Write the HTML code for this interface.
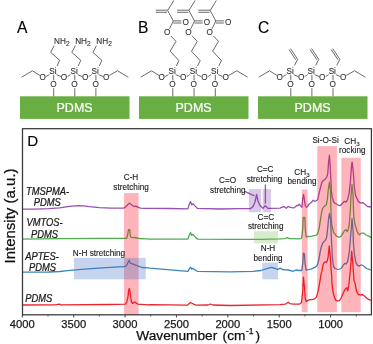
<!DOCTYPE html>
<html><head><meta charset="utf-8"><title>FTIR</title>
<style>html,body{margin:0;padding:0;background:#fff;}svg{display:block;}</style></head>
<body><svg width="373" height="344" viewBox="0 0 373 344">
<rect width="373" height="344" fill="#fff"/>
<text x="17.1" y="32.7" font-size="15.6" font-family="'Liberation Sans', sans-serif" fill="#000" stroke="#000" stroke-width="0.15">A</text>
<text x="137.9" y="32.7" font-size="15.6" font-family="'Liberation Sans', sans-serif" fill="#000" stroke="#000" stroke-width="0.15">B</text>
<text x="258.1" y="32.8" font-size="15.6" font-family="'Liberation Sans', sans-serif" fill="#000" stroke="#000" stroke-width="0.15">C</text>
<rect x="20" y="96.3" width="109.5" height="22.6" fill="#69ae43"/>
<text x="74.6" y="112.2" font-size="12.5" text-anchor="middle" font-family="'Liberation Sans', sans-serif" fill="#fff" stroke="#fff" stroke-width="0.2">PDMS</text>
<rect x="139" y="96.3" width="109.5" height="22.6" fill="#69ae43"/>
<text x="193.6" y="112.2" font-size="12.5" text-anchor="middle" font-family="'Liberation Sans', sans-serif" fill="#fff" stroke="#fff" stroke-width="0.2">PDMS</text>
<rect x="258" y="96.3" width="109.5" height="22.6" fill="#69ae43"/>
<text x="312.6" y="112.2" font-size="12.5" text-anchor="middle" font-family="'Liberation Sans', sans-serif" fill="#fff" stroke="#fff" stroke-width="0.2">PDMS</text>
<text x="53.00" y="74.10" font-size="8.2" text-anchor="middle" font-family="'Liberation Sans', sans-serif" fill="#333" stroke="#333" stroke-width="0.12">Si</text>
<text x="53.40" y="87.00" font-size="8.2" text-anchor="middle" font-family="'Liberation Sans', sans-serif" fill="#333" stroke="#333" stroke-width="0.12">O</text>
<line x1="53.70" y1="74.80" x2="53.70" y2="80.40" stroke="#444" stroke-width="0.8"/>
<line x1="53.70" y1="88.20" x2="53.70" y2="96.30" stroke="#444" stroke-width="0.8"/>
<text x="64.00" y="80.20" font-size="8.2" text-anchor="middle" font-family="'Liberation Sans', sans-serif" fill="#333" stroke="#333" stroke-width="0.12">O</text>
<line x1="56.50" y1="74.60" x2="61.00" y2="76.60" stroke="#444" stroke-width="0.8"/>
<text x="42.70" y="80.20" font-size="8.2" text-anchor="middle" font-family="'Liberation Sans', sans-serif" fill="#333" stroke="#333" stroke-width="0.12">O</text>
<line x1="49.40" y1="74.60" x2="45.90" y2="76.60" stroke="#444" stroke-width="0.8"/>
<line x1="39.90" y1="75.50" x2="32.40" y2="70.80" stroke="#444" stroke-width="0.8"/>
<line x1="32.40" y1="70.80" x2="21.60" y2="77.20" stroke="#444" stroke-width="0.8"/>
<line x1="57.10" y1="66.00" x2="59.70" y2="60.30" stroke="#444" stroke-width="0.8"/>
<line x1="59.70" y1="60.30" x2="50.70" y2="52.40" stroke="#444" stroke-width="0.8"/>
<line x1="50.70" y1="52.40" x2="54.20" y2="45.70" stroke="#444" stroke-width="0.8"/>
<text x="54.10" y="44.3" font-size="8.2" font-family="'Liberation Sans', sans-serif" fill="#333" stroke="#333" stroke-width="0.12">NH<tspan font-size="6.6" dy="1.6">2</tspan></text>
<text x="74.10" y="74.10" font-size="8.2" text-anchor="middle" font-family="'Liberation Sans', sans-serif" fill="#333" stroke="#333" stroke-width="0.12">Si</text>
<text x="74.50" y="87.00" font-size="8.2" text-anchor="middle" font-family="'Liberation Sans', sans-serif" fill="#333" stroke="#333" stroke-width="0.12">O</text>
<line x1="74.80" y1="74.80" x2="74.80" y2="80.40" stroke="#444" stroke-width="0.8"/>
<line x1="74.80" y1="88.20" x2="74.80" y2="96.30" stroke="#444" stroke-width="0.8"/>
<text x="85.10" y="80.20" font-size="8.2" text-anchor="middle" font-family="'Liberation Sans', sans-serif" fill="#333" stroke="#333" stroke-width="0.12">O</text>
<line x1="77.60" y1="74.60" x2="82.10" y2="76.60" stroke="#444" stroke-width="0.8"/>
<line x1="70.50" y1="74.60" x2="67.50" y2="76.60" stroke="#444" stroke-width="0.8"/>
<line x1="78.20" y1="66.00" x2="80.80" y2="60.30" stroke="#444" stroke-width="0.8"/>
<line x1="80.80" y1="60.30" x2="71.80" y2="52.40" stroke="#444" stroke-width="0.8"/>
<line x1="71.80" y1="52.40" x2="75.30" y2="45.70" stroke="#444" stroke-width="0.8"/>
<text x="75.20" y="44.3" font-size="8.2" font-family="'Liberation Sans', sans-serif" fill="#333" stroke="#333" stroke-width="0.12">NH<tspan font-size="6.6" dy="1.6">2</tspan></text>
<text x="95.20" y="74.10" font-size="8.2" text-anchor="middle" font-family="'Liberation Sans', sans-serif" fill="#333" stroke="#333" stroke-width="0.12">Si</text>
<text x="95.60" y="87.00" font-size="8.2" text-anchor="middle" font-family="'Liberation Sans', sans-serif" fill="#333" stroke="#333" stroke-width="0.12">O</text>
<line x1="95.90" y1="74.80" x2="95.90" y2="80.40" stroke="#444" stroke-width="0.8"/>
<line x1="95.90" y1="88.20" x2="95.90" y2="96.30" stroke="#444" stroke-width="0.8"/>
<text x="106.20" y="80.20" font-size="8.2" text-anchor="middle" font-family="'Liberation Sans', sans-serif" fill="#333" stroke="#333" stroke-width="0.12">O</text>
<line x1="98.70" y1="74.60" x2="103.20" y2="76.60" stroke="#444" stroke-width="0.8"/>
<line x1="91.60" y1="74.60" x2="88.60" y2="76.60" stroke="#444" stroke-width="0.8"/>
<line x1="109.10" y1="75.50" x2="117.50" y2="70.80" stroke="#444" stroke-width="0.8"/>
<line x1="117.50" y1="70.80" x2="128.30" y2="77.20" stroke="#444" stroke-width="0.8"/>
<line x1="99.30" y1="66.00" x2="101.90" y2="60.30" stroke="#444" stroke-width="0.8"/>
<line x1="101.90" y1="60.30" x2="92.90" y2="52.40" stroke="#444" stroke-width="0.8"/>
<line x1="92.90" y1="52.40" x2="96.40" y2="45.70" stroke="#444" stroke-width="0.8"/>
<text x="96.30" y="44.3" font-size="8.2" font-family="'Liberation Sans', sans-serif" fill="#333" stroke="#333" stroke-width="0.12">NH<tspan font-size="6.6" dy="1.6">2</tspan></text>
<text x="172.10" y="74.10" font-size="8.2" text-anchor="middle" font-family="'Liberation Sans', sans-serif" fill="#333" stroke="#333" stroke-width="0.12">Si</text>
<text x="172.50" y="87.00" font-size="8.2" text-anchor="middle" font-family="'Liberation Sans', sans-serif" fill="#333" stroke="#333" stroke-width="0.12">O</text>
<line x1="172.80" y1="74.80" x2="172.80" y2="80.40" stroke="#444" stroke-width="0.8"/>
<line x1="172.80" y1="88.20" x2="172.80" y2="96.30" stroke="#444" stroke-width="0.8"/>
<text x="183.10" y="80.20" font-size="8.2" text-anchor="middle" font-family="'Liberation Sans', sans-serif" fill="#333" stroke="#333" stroke-width="0.12">O</text>
<line x1="175.60" y1="74.60" x2="180.10" y2="76.60" stroke="#444" stroke-width="0.8"/>
<text x="161.80" y="80.20" font-size="8.2" text-anchor="middle" font-family="'Liberation Sans', sans-serif" fill="#333" stroke="#333" stroke-width="0.12">O</text>
<line x1="168.50" y1="74.60" x2="165.00" y2="76.60" stroke="#444" stroke-width="0.8"/>
<line x1="159.00" y1="75.50" x2="151.50" y2="70.80" stroke="#444" stroke-width="0.8"/>
<line x1="151.50" y1="70.80" x2="140.70" y2="77.20" stroke="#444" stroke-width="0.8"/>
<line x1="176.30" y1="66.00" x2="178.90" y2="60.60" stroke="#444" stroke-width="0.8"/>
<line x1="178.90" y1="60.60" x2="170.20" y2="51.20" stroke="#444" stroke-width="0.8"/>
<line x1="170.20" y1="51.20" x2="176.00" y2="41.30" stroke="#444" stroke-width="0.8"/>
<line x1="176.00" y1="41.30" x2="170.90" y2="36.00" stroke="#444" stroke-width="0.8"/>
<text x="167.30" y="35.00" font-size="8.2" text-anchor="middle" font-family="'Liberation Sans', sans-serif" fill="#333" stroke="#333" stroke-width="0.12">O</text>
<line x1="169.50" y1="28.80" x2="173.30" y2="21.00" stroke="#444" stroke-width="0.8"/>
<line x1="173.30" y1="20.90" x2="181.40" y2="20.90" stroke="#444" stroke-width="0.8"/>
<line x1="173.30" y1="23.00" x2="181.40" y2="23.00" stroke="#444" stroke-width="0.8"/>
<text x="185.70" y="25.00" font-size="8.2" text-anchor="middle" font-family="'Liberation Sans', sans-serif" fill="#333" stroke="#333" stroke-width="0.12">O</text>
<line x1="173.30" y1="21.00" x2="167.70" y2="10.50" stroke="#444" stroke-width="0.8"/>
<line x1="167.70" y1="10.50" x2="173.80" y2="0.50" stroke="#444" stroke-width="0.8"/>
<line x1="155.80" y1="10.20" x2="167.70" y2="10.20" stroke="#444" stroke-width="0.8"/>
<line x1="155.80" y1="12.30" x2="167.00" y2="12.30" stroke="#444" stroke-width="0.8"/>
<text x="193.35" y="74.10" font-size="8.2" text-anchor="middle" font-family="'Liberation Sans', sans-serif" fill="#333" stroke="#333" stroke-width="0.12">Si</text>
<text x="193.75" y="87.00" font-size="8.2" text-anchor="middle" font-family="'Liberation Sans', sans-serif" fill="#333" stroke="#333" stroke-width="0.12">O</text>
<line x1="194.05" y1="74.80" x2="194.05" y2="80.40" stroke="#444" stroke-width="0.8"/>
<line x1="194.05" y1="88.20" x2="194.05" y2="96.30" stroke="#444" stroke-width="0.8"/>
<text x="204.35" y="80.20" font-size="8.2" text-anchor="middle" font-family="'Liberation Sans', sans-serif" fill="#333" stroke="#333" stroke-width="0.12">O</text>
<line x1="196.85" y1="74.60" x2="201.35" y2="76.60" stroke="#444" stroke-width="0.8"/>
<line x1="189.75" y1="74.60" x2="186.75" y2="76.60" stroke="#444" stroke-width="0.8"/>
<line x1="197.55" y1="66.00" x2="200.15" y2="60.60" stroke="#444" stroke-width="0.8"/>
<line x1="200.15" y1="60.60" x2="191.45" y2="51.20" stroke="#444" stroke-width="0.8"/>
<line x1="191.45" y1="51.20" x2="197.25" y2="41.30" stroke="#444" stroke-width="0.8"/>
<line x1="197.25" y1="41.30" x2="192.15" y2="36.00" stroke="#444" stroke-width="0.8"/>
<text x="188.55" y="35.00" font-size="8.2" text-anchor="middle" font-family="'Liberation Sans', sans-serif" fill="#333" stroke="#333" stroke-width="0.12">O</text>
<line x1="190.75" y1="28.80" x2="194.55" y2="21.00" stroke="#444" stroke-width="0.8"/>
<line x1="194.55" y1="20.90" x2="202.65" y2="20.90" stroke="#444" stroke-width="0.8"/>
<line x1="194.55" y1="23.00" x2="202.65" y2="23.00" stroke="#444" stroke-width="0.8"/>
<text x="206.95" y="25.00" font-size="8.2" text-anchor="middle" font-family="'Liberation Sans', sans-serif" fill="#333" stroke="#333" stroke-width="0.12">O</text>
<line x1="194.55" y1="21.00" x2="188.95" y2="10.50" stroke="#444" stroke-width="0.8"/>
<line x1="188.95" y1="10.50" x2="195.05" y2="0.50" stroke="#444" stroke-width="0.8"/>
<line x1="177.05" y1="10.20" x2="188.95" y2="10.20" stroke="#444" stroke-width="0.8"/>
<line x1="177.05" y1="12.30" x2="188.25" y2="12.30" stroke="#444" stroke-width="0.8"/>
<text x="214.60" y="74.10" font-size="8.2" text-anchor="middle" font-family="'Liberation Sans', sans-serif" fill="#333" stroke="#333" stroke-width="0.12">Si</text>
<text x="215.00" y="87.00" font-size="8.2" text-anchor="middle" font-family="'Liberation Sans', sans-serif" fill="#333" stroke="#333" stroke-width="0.12">O</text>
<line x1="215.30" y1="74.80" x2="215.30" y2="80.40" stroke="#444" stroke-width="0.8"/>
<line x1="215.30" y1="88.20" x2="215.30" y2="96.30" stroke="#444" stroke-width="0.8"/>
<text x="225.60" y="80.20" font-size="8.2" text-anchor="middle" font-family="'Liberation Sans', sans-serif" fill="#333" stroke="#333" stroke-width="0.12">O</text>
<line x1="218.10" y1="74.60" x2="222.60" y2="76.60" stroke="#444" stroke-width="0.8"/>
<line x1="211.00" y1="74.60" x2="208.00" y2="76.60" stroke="#444" stroke-width="0.8"/>
<line x1="228.50" y1="75.50" x2="236.90" y2="70.80" stroke="#444" stroke-width="0.8"/>
<line x1="236.90" y1="70.80" x2="247.70" y2="77.20" stroke="#444" stroke-width="0.8"/>
<line x1="218.80" y1="66.00" x2="221.40" y2="60.60" stroke="#444" stroke-width="0.8"/>
<line x1="221.40" y1="60.60" x2="212.70" y2="51.20" stroke="#444" stroke-width="0.8"/>
<line x1="212.70" y1="51.20" x2="218.50" y2="41.30" stroke="#444" stroke-width="0.8"/>
<line x1="218.50" y1="41.30" x2="213.40" y2="36.00" stroke="#444" stroke-width="0.8"/>
<text x="209.80" y="35.00" font-size="8.2" text-anchor="middle" font-family="'Liberation Sans', sans-serif" fill="#333" stroke="#333" stroke-width="0.12">O</text>
<line x1="212.00" y1="28.80" x2="215.80" y2="21.00" stroke="#444" stroke-width="0.8"/>
<line x1="215.80" y1="20.90" x2="223.90" y2="20.90" stroke="#444" stroke-width="0.8"/>
<line x1="215.80" y1="23.00" x2="223.90" y2="23.00" stroke="#444" stroke-width="0.8"/>
<text x="228.20" y="25.00" font-size="8.2" text-anchor="middle" font-family="'Liberation Sans', sans-serif" fill="#333" stroke="#333" stroke-width="0.12">O</text>
<line x1="215.80" y1="21.00" x2="210.20" y2="10.50" stroke="#444" stroke-width="0.8"/>
<line x1="210.20" y1="10.50" x2="216.30" y2="0.50" stroke="#444" stroke-width="0.8"/>
<line x1="198.30" y1="10.20" x2="210.20" y2="10.20" stroke="#444" stroke-width="0.8"/>
<line x1="198.30" y1="12.30" x2="209.50" y2="12.30" stroke="#444" stroke-width="0.8"/>
<text x="290.10" y="74.10" font-size="8.2" text-anchor="middle" font-family="'Liberation Sans', sans-serif" fill="#333" stroke="#333" stroke-width="0.12">Si</text>
<text x="290.50" y="87.00" font-size="8.2" text-anchor="middle" font-family="'Liberation Sans', sans-serif" fill="#333" stroke="#333" stroke-width="0.12">O</text>
<line x1="290.80" y1="74.80" x2="290.80" y2="80.40" stroke="#444" stroke-width="0.8"/>
<line x1="290.80" y1="88.20" x2="290.80" y2="96.30" stroke="#444" stroke-width="0.8"/>
<text x="301.10" y="80.20" font-size="8.2" text-anchor="middle" font-family="'Liberation Sans', sans-serif" fill="#333" stroke="#333" stroke-width="0.12">O</text>
<line x1="293.60" y1="74.60" x2="298.10" y2="76.60" stroke="#444" stroke-width="0.8"/>
<text x="279.80" y="80.20" font-size="8.2" text-anchor="middle" font-family="'Liberation Sans', sans-serif" fill="#333" stroke="#333" stroke-width="0.12">O</text>
<line x1="286.50" y1="74.60" x2="283.00" y2="76.60" stroke="#444" stroke-width="0.8"/>
<line x1="277.00" y1="75.50" x2="269.50" y2="70.80" stroke="#444" stroke-width="0.8"/>
<line x1="269.50" y1="70.80" x2="258.70" y2="77.20" stroke="#444" stroke-width="0.8"/>
<line x1="294.50" y1="65.50" x2="297.70" y2="59.40" stroke="#444" stroke-width="0.8"/>
<line x1="297.70" y1="59.40" x2="290.50" y2="48.60" stroke="#444" stroke-width="0.8"/>
<line x1="295.80" y1="59.80" x2="289.00" y2="49.60" stroke="#444" stroke-width="0.8"/>
<text x="311.20" y="74.10" font-size="8.2" text-anchor="middle" font-family="'Liberation Sans', sans-serif" fill="#333" stroke="#333" stroke-width="0.12">Si</text>
<text x="311.60" y="87.00" font-size="8.2" text-anchor="middle" font-family="'Liberation Sans', sans-serif" fill="#333" stroke="#333" stroke-width="0.12">O</text>
<line x1="311.90" y1="74.80" x2="311.90" y2="80.40" stroke="#444" stroke-width="0.8"/>
<line x1="311.90" y1="88.20" x2="311.90" y2="96.30" stroke="#444" stroke-width="0.8"/>
<text x="322.20" y="80.20" font-size="8.2" text-anchor="middle" font-family="'Liberation Sans', sans-serif" fill="#333" stroke="#333" stroke-width="0.12">O</text>
<line x1="314.70" y1="74.60" x2="319.20" y2="76.60" stroke="#444" stroke-width="0.8"/>
<line x1="307.60" y1="74.60" x2="304.60" y2="76.60" stroke="#444" stroke-width="0.8"/>
<line x1="315.60" y1="65.50" x2="318.80" y2="59.40" stroke="#444" stroke-width="0.8"/>
<line x1="318.80" y1="59.40" x2="311.60" y2="48.60" stroke="#444" stroke-width="0.8"/>
<line x1="316.90" y1="59.80" x2="310.10" y2="49.60" stroke="#444" stroke-width="0.8"/>
<text x="332.30" y="74.10" font-size="8.2" text-anchor="middle" font-family="'Liberation Sans', sans-serif" fill="#333" stroke="#333" stroke-width="0.12">Si</text>
<text x="332.70" y="87.00" font-size="8.2" text-anchor="middle" font-family="'Liberation Sans', sans-serif" fill="#333" stroke="#333" stroke-width="0.12">O</text>
<line x1="333.00" y1="74.80" x2="333.00" y2="80.40" stroke="#444" stroke-width="0.8"/>
<line x1="333.00" y1="88.20" x2="333.00" y2="96.30" stroke="#444" stroke-width="0.8"/>
<text x="343.30" y="80.20" font-size="8.2" text-anchor="middle" font-family="'Liberation Sans', sans-serif" fill="#333" stroke="#333" stroke-width="0.12">O</text>
<line x1="335.80" y1="74.60" x2="340.30" y2="76.60" stroke="#444" stroke-width="0.8"/>
<line x1="328.70" y1="74.60" x2="325.70" y2="76.60" stroke="#444" stroke-width="0.8"/>
<line x1="346.20" y1="75.50" x2="354.60" y2="70.80" stroke="#444" stroke-width="0.8"/>
<line x1="354.60" y1="70.80" x2="365.40" y2="77.20" stroke="#444" stroke-width="0.8"/>
<line x1="336.70" y1="65.50" x2="339.90" y2="59.40" stroke="#444" stroke-width="0.8"/>
<line x1="339.90" y1="59.40" x2="332.70" y2="48.60" stroke="#444" stroke-width="0.8"/>
<line x1="338.00" y1="59.80" x2="331.20" y2="49.60" stroke="#444" stroke-width="0.8"/>
<polyline points="22.6,209.1 35.4,209.1 48.8,208.7 59.5,207.8 66.0,206.9 72.0,206.2 78.8,205.6 84.0,205.9 89.2,206.6 99.5,207.7 111.3,208.1 121.6,208.1 124.0,208.1 126.0,206.5 129.3,203.1 131.3,204.8 134.1,206.5 136.1,206.1 138.1,207.4 140.5,208.1 145.0,208.4 150.0,208.3 170.0,208.5 187.9,208.9 189.0,205.1 190.5,201.6 191.7,204.8 193.0,203.8 194.9,205.9 197.3,208.3 220.0,209.0 240.0,208.7 250.7,208.5 253.0,206.5 255.0,202.0 256.6,194.5 258.0,201.0 260.0,205.5 263.0,208.4 265.2,205.7 267.9,208.4 269.0,208.3 271.4,208.4 280.0,208.2 281.6,207.4 283.8,206.6 285.4,207.4 286.4,208.2 288.1,206.4 289.7,207.1 291.8,207.7 294.0,207.9 295.6,206.6 297.0,205.3 298.2,205.7 299.3,204.2 300.4,205.7 301.5,207.1 301.9,207.0 302.8,198.1 303.6,194.4 304.2,198.1 305.2,205.2 306.4,207.3 307.5,206.4 308.9,204.2 310.3,203.3 311.7,202.1 313.1,200.2 314.5,201.1 316.0,201.0 317.8,199.5 318.6,195.3 320.1,189.2 321.6,183.1 323.1,180.6 325.2,179.3 326.7,177.0 327.7,174.0 327.9,171.8 328.5,163.1 329.4,155.2 330.0,163.1 330.5,171.8 330.9,180.0 331.3,190.3 332.3,197.4 333.8,202.5 336.4,204.0 338.4,205.3 340.4,205.5 342.8,203.0 344.4,201.3 346.0,202.1 347.6,199.7 349.2,192.6 350.5,180.6 351.6,164.6 352.1,162.2 353.2,171.0 354.3,187.0 355.6,195.8 357.2,199.0 358.8,202.1 361.2,203.0 362.8,202.6 365.2,204.5 367.6,206.5 370.8,207.0" fill="none" stroke="#9a4fb3" stroke-width="1.3" stroke-linejoin="round"/>
<polyline points="22.6,239.2 60.0,238.7 100.0,238.3 126.0,238.3 126.8,238.1 127.8,234.0 128.5,229.6 129.7,229.6 130.2,235.3 130.9,237.3 132.5,237.7 134.9,237.3 136.1,238.1 137.3,237.9 138.9,238.5 146.0,238.9 150.0,239.2 187.9,239.1 189.0,235.7 190.5,232.4 191.7,235.4 193.0,234.3 194.9,236.7 197.3,238.9 198.0,239.1 230.0,239.4 260.0,239.3 279.7,238.9 285.0,238.6 287.4,237.6 289.0,238.5 291.2,238.6 299.0,238.8 301.5,238.3 301.9,236.0 302.7,229.1 303.2,217.3 304.8,217.3 305.4,230.5 306.2,236.9 308.5,236.5 311.8,236.1 316.5,235.2 317.8,233.2 319.2,227.8 320.5,219.7 321.5,213.0 322.5,209.0 323.1,207.6 324.7,206.0 326.2,205.0 327.4,199.4 328.2,190.3 329.4,182.1 330.5,190.3 330.8,205.0 331.2,218.0 331.8,225.0 333.6,232.3 336.3,235.9 339.0,237.3 341.2,236.2 343.0,233.2 344.6,230.5 345.9,229.7 347.2,231.6 348.1,229.9 349.2,224.6 350.2,212.9 351.0,196.0 352.0,184.5 353.1,196.2 353.7,215.5 354.7,223.3 355.7,226.6 357.0,231.2 358.3,233.8 359.6,234.8 361.6,233.1 363.6,233.1 366.0,235.0 368.7,236.2 371.2,237.3" fill="none" stroke="#4cae4c" stroke-width="1.3" stroke-linejoin="round"/>
<polyline points="22.6,272.2 48.8,272.0 60.0,271.5 67.6,270.7 81.0,269.4 95.0,268.3 110.0,267.4 123.6,266.6 124.5,266.7 126.5,265.5 129.1,260.2 130.2,263.0 132.5,263.8 135.7,265.1 138.9,266.3 142.1,267.5 148.0,267.9 150.0,268.2 187.9,271.3 189.0,269.4 190.5,267.2 191.7,269.1 193.0,268.3 194.9,269.9 197.3,271.3 230.0,271.8 252.9,271.3 261.0,270.5 265.8,268.9 271.5,267.3 276.3,268.9 277.9,269.4 280.3,268.1 282.7,269.7 288.4,270.0 293.2,271.3 295.6,270.0 300.0,270.5 301.8,270.5 301.8,270.3 302.8,263.2 303.4,253.1 304.4,253.8 305.1,263.8 306.2,270.1 308.5,269.6 311.8,268.8 315.2,267.2 317.2,265.2 318.8,259.8 320.1,252.4 321.2,247.1 322.5,243.7 323.9,241.7 325.2,240.4 326.5,238.0 327.2,233.0 328.0,225.0 328.6,218.4 329.5,213.3 330.6,220.0 331.2,235.0 331.9,248.0 332.2,255.0 333.0,263.0 333.5,266.5 335.0,268.5 338.1,269.5 341.1,268.5 343.2,265.4 344.8,263.4 346.2,264.0 347.7,261.4 349.3,252.2 350.7,235.0 351.1,231.2 352.0,218.7 353.1,231.2 353.4,243.0 354.4,254.2 355.8,262.4 357.4,265.4 359.5,266.0 361.5,264.8 363.5,266.0 366.6,268.5 370.6,269.9" fill="none" stroke="#3a86bd" stroke-width="1.3" stroke-linejoin="round"/>
<polyline points="22.6,305.0 55.0,304.9 59.4,304.2 61.0,304.9 110.0,304.5 125.2,304.1 126.8,302.1 128.1,296.1 128.6,290.4 129.3,288.4 129.9,290.4 130.5,296.1 131.3,301.3 132.5,303.3 133.7,302.7 134.9,302.1 136.1,302.9 137.7,304.1 148.0,304.8 150.0,304.6 187.5,305.1 189.3,303.6 190.5,302.6 192.5,303.5 194.0,304.4 196.0,305.1 208.0,305.0 210.4,304.0 213.0,305.0 230.0,305.5 280.0,304.6 285.0,304.1 286.5,303.6 288.2,302.2 289.7,303.6 293.8,304.1 299.7,304.1 301.5,302.6 302.7,291.5 303.4,277.1 304.5,287.1 305.2,298.2 306.1,301.6 307.9,300.4 310.1,299.7 312.3,299.7 314.5,298.9 316.3,297.2 317.7,293.0 318.9,287.1 320.4,278.3 320.9,275.0 321.9,271.2 322.8,265.8 324.1,262.5 325.2,261.8 326.3,262.5 327.2,261.1 328.2,256.4 329.2,246.0 330.2,255.1 331.0,268.5 331.6,275.0 331.9,282.7 332.9,291.5 334.4,297.4 335.9,300.4 337.5,301.0 339.5,300.6 341.1,298.0 342.8,293.9 344.2,290.9 345.6,288.8 346.8,287.8 347.7,290.9 348.9,284.8 350.3,270.5 351.7,251.2 352.9,264.4 354.0,280.7 355.0,282.7 356.4,290.9 358.4,294.5 360.5,294.9 362.5,294.5 364.5,296.0 366.6,298.0 368.6,299.4 370.8,300.4" fill="none" stroke="#e8272d" stroke-width="1.3" stroke-linejoin="round"/>
<rect x="124" y="193.1" width="14.6" height="121.70000000000002" fill="rgb(250,10,30)" fill-opacity="0.3"/>
<rect x="301.8" y="189.6" width="5.8" height="122.6" fill="rgb(250,10,30)" fill-opacity="0.3"/>
<rect x="317.3" y="146.1" width="19.6" height="166.1" fill="rgb(250,10,30)" fill-opacity="0.3"/>
<rect x="341.3" y="157.8" width="19.5" height="154.39999999999998" fill="rgb(250,10,30)" fill-opacity="0.3"/>
<rect x="248.8" y="189.1" width="12.4" height="23.1" fill="rgb(112,48,160)" fill-opacity="0.26"/>
<rect x="262.7" y="189.1" width="8.3" height="23.1" fill="rgb(112,48,160)" fill-opacity="0.26"/>
<rect x="254.1" y="231.2" width="23.9" height="12.2" fill="rgb(112,180,71)" fill-opacity="0.27"/>
<rect x="73.9" y="257.9" width="71.8" height="21.4" fill="rgb(68,114,196)" fill-opacity="0.3"/>
<rect x="262.3" y="262.6" width="15.7" height="16.7" fill="rgb(68,114,196)" fill-opacity="0.3"/>
<line x1="244.8" y1="191.3" x2="254.5" y2="195.9" stroke="#9a4fb3" stroke-width="1.35"/>
<line x1="265.4" y1="184.5" x2="265.4" y2="203.6" stroke="#9a4fb3" stroke-width="1.35"/>
<rect x="22.5" y="128.7" width="348.9" height="186.10000000000002" fill="none" stroke="#383838" stroke-width="1.25"/>
<line x1="22.30" y1="314.8" x2="22.30" y2="317.40000000000003" stroke="#444" stroke-width="1"/>
<line x1="47.99" y1="314.8" x2="47.99" y2="316.40000000000003" stroke="#444" stroke-width="1"/>
<line x1="73.69" y1="314.8" x2="73.69" y2="317.40000000000003" stroke="#444" stroke-width="1"/>
<line x1="99.38" y1="314.8" x2="99.38" y2="316.40000000000003" stroke="#444" stroke-width="1"/>
<line x1="125.07" y1="314.8" x2="125.07" y2="317.40000000000003" stroke="#444" stroke-width="1"/>
<line x1="150.76" y1="314.8" x2="150.76" y2="316.40000000000003" stroke="#444" stroke-width="1"/>
<line x1="176.46" y1="314.8" x2="176.46" y2="317.40000000000003" stroke="#444" stroke-width="1"/>
<line x1="202.15" y1="314.8" x2="202.15" y2="316.40000000000003" stroke="#444" stroke-width="1"/>
<line x1="227.84" y1="314.8" x2="227.84" y2="317.40000000000003" stroke="#444" stroke-width="1"/>
<line x1="253.53" y1="314.8" x2="253.53" y2="316.40000000000003" stroke="#444" stroke-width="1"/>
<line x1="279.23" y1="314.8" x2="279.23" y2="317.40000000000003" stroke="#444" stroke-width="1"/>
<line x1="304.92" y1="314.8" x2="304.92" y2="316.40000000000003" stroke="#444" stroke-width="1"/>
<line x1="330.61" y1="314.8" x2="330.61" y2="317.40000000000003" stroke="#444" stroke-width="1"/>
<line x1="356.30" y1="314.8" x2="356.30" y2="316.40000000000003" stroke="#444" stroke-width="1"/>
<text x="22.30" y="327.6" font-size="11.2" text-anchor="middle" font-family="'Liberation Sans', sans-serif" fill="#1a1a1a" stroke="#1a1a1a" stroke-width="0.25">4000</text>
<text x="73.69" y="327.6" font-size="11.2" text-anchor="middle" font-family="'Liberation Sans', sans-serif" fill="#1a1a1a" stroke="#1a1a1a" stroke-width="0.25">3500</text>
<text x="125.07" y="327.6" font-size="11.2" text-anchor="middle" font-family="'Liberation Sans', sans-serif" fill="#1a1a1a" stroke="#1a1a1a" stroke-width="0.25">3000</text>
<text x="176.46" y="327.6" font-size="11.2" text-anchor="middle" font-family="'Liberation Sans', sans-serif" fill="#1a1a1a" stroke="#1a1a1a" stroke-width="0.25">2500</text>
<text x="227.84" y="327.6" font-size="11.2" text-anchor="middle" font-family="'Liberation Sans', sans-serif" fill="#1a1a1a" stroke="#1a1a1a" stroke-width="0.25">2000</text>
<text x="279.23" y="327.6" font-size="11.2" text-anchor="middle" font-family="'Liberation Sans', sans-serif" fill="#1a1a1a" stroke="#1a1a1a" stroke-width="0.25">1500</text>
<text x="330.61" y="327.6" font-size="11.2" text-anchor="middle" font-family="'Liberation Sans', sans-serif" fill="#1a1a1a" stroke="#1a1a1a" stroke-width="0.25">1000</text>
<text x="136.3" y="339.5" font-size="13.7" font-family="'Liberation Sans', sans-serif" fill="#111" stroke="#111" stroke-width="0.25">Wavenumber<tspan dx="1.6"> (cm</tspan><tspan font-size="8.6" dy="-5.2" dx="0.6">-1</tspan><tspan dy="5.2" dx="1.8">)</tspan></text>
<text transform="translate(14.7,263.5) rotate(-90)" x="0" y="0" font-size="15" font-family="'Liberation Sans', sans-serif" fill="#111" stroke="#111" stroke-width="0.25">Intensity (a.u.)</text>
<text x="27.3" y="145.8" font-size="15.2" font-family="'Liberation Sans', sans-serif" fill="#000" stroke="#000" stroke-width="0.1">D</text>
<text transform="translate(26.0,195.2) scale(0.9,1)" font-style="italic" font-size="10.4" font-family="'Liberation Sans', sans-serif" fill="#1a1a1a" stroke="#1a1a1a" stroke-width="0.25">TMSPMA-</text>
<text transform="translate(33.8,206.2) scale(0.9,1)" font-style="italic" font-size="10.4" font-family="'Liberation Sans', sans-serif" fill="#1a1a1a" stroke="#1a1a1a" stroke-width="0.25">PDMS</text>
<text transform="translate(26.4,226.4) scale(0.9,1)" font-style="italic" font-size="10.4" font-family="'Liberation Sans', sans-serif" fill="#1a1a1a" stroke="#1a1a1a" stroke-width="0.25">VMTOS-</text>
<text transform="translate(31.0,237.6) scale(0.9,1)" font-style="italic" font-size="10.4" font-family="'Liberation Sans', sans-serif" fill="#1a1a1a" stroke="#1a1a1a" stroke-width="0.25">PDMS</text>
<text transform="translate(25.2,260.1) scale(0.9,1)" font-style="italic" font-size="10.4" font-family="'Liberation Sans', sans-serif" fill="#1a1a1a" stroke="#1a1a1a" stroke-width="0.25">APTES-</text>
<text transform="translate(29.0,271.0) scale(0.9,1)" font-style="italic" font-size="10.4" font-family="'Liberation Sans', sans-serif" fill="#1a1a1a" stroke="#1a1a1a" stroke-width="0.25">PDMS</text>
<text transform="translate(25.3,302.0) scale(0.9,1)" font-style="italic" font-size="10.4" font-family="'Liberation Sans', sans-serif" fill="#1a1a1a" stroke="#1a1a1a" stroke-width="0.25">PDMS</text>
<text x="131.0" y="180.3" text-anchor="middle" font-size="8.2" font-family="'Liberation Sans', sans-serif" fill="#1a1a1a" stroke="#1a1a1a" stroke-width="0.12">C-H</text>
<text x="131.1" y="189.8" text-anchor="middle" font-size="8.2" font-family="'Liberation Sans', sans-serif" fill="#1a1a1a" stroke="#1a1a1a" stroke-width="0.12">stretching</text>
<text x="99.0" y="256.2" text-anchor="middle" font-size="8.2" font-family="'Liberation Sans', sans-serif" fill="#1a1a1a" stroke="#1a1a1a" stroke-width="0.12">N-H stretching</text>
<text x="227.6" y="183.0" text-anchor="middle" font-size="8.2" font-family="'Liberation Sans', sans-serif" fill="#1a1a1a" stroke="#1a1a1a" stroke-width="0.12">C=O</text>
<text x="227.8" y="193.1" text-anchor="middle" font-size="8.2" font-family="'Liberation Sans', sans-serif" fill="#1a1a1a" stroke="#1a1a1a" stroke-width="0.12">stretching</text>
<text x="265.2" y="171.8" text-anchor="middle" font-size="8.2" font-family="'Liberation Sans', sans-serif" fill="#1a1a1a" stroke="#1a1a1a" stroke-width="0.12">C=C</text>
<text x="264.5" y="181.5" text-anchor="middle" font-size="8.2" font-family="'Liberation Sans', sans-serif" fill="#1a1a1a" stroke="#1a1a1a" stroke-width="0.12">stretching</text>
<text x="265.8" y="220.3" text-anchor="middle" font-size="8.2" font-family="'Liberation Sans', sans-serif" fill="#1a1a1a" stroke="#1a1a1a" stroke-width="0.12">C=C</text>
<text x="265.7" y="229.4" text-anchor="middle" font-size="8.2" font-family="'Liberation Sans', sans-serif" fill="#1a1a1a" stroke="#1a1a1a" stroke-width="0.12">stretching</text>
<text x="268.0" y="250.7" text-anchor="middle" font-size="8.2" font-family="'Liberation Sans', sans-serif" fill="#1a1a1a" stroke="#1a1a1a" stroke-width="0.12">N-H</text>
<text x="268.0" y="260.5" text-anchor="middle" font-size="8.2" font-family="'Liberation Sans', sans-serif" fill="#1a1a1a" stroke="#1a1a1a" stroke-width="0.12">bending</text>
<text x="325.6" y="142.9" text-anchor="middle" font-size="8.2" font-family="'Liberation Sans', sans-serif" fill="#1a1a1a" stroke="#1a1a1a" stroke-width="0.12">Si-O-Si</text>
<text x="302" y="174.5" text-anchor="middle" font-size="8.2" font-family="'Liberation Sans', sans-serif" fill="#1a1a1a" stroke="#1a1a1a" stroke-width="0.12">CH<tspan font-size="6.2" dy="2">3</tspan></text>
<text x="302.1" y="183.7" text-anchor="middle" font-size="8.2" font-family="'Liberation Sans', sans-serif" fill="#1a1a1a" stroke="#1a1a1a" stroke-width="0.12">bending</text>
<text x="352" y="143.7" text-anchor="middle" font-size="8.2" font-family="'Liberation Sans', sans-serif" fill="#1a1a1a" stroke="#1a1a1a" stroke-width="0.12">CH<tspan font-size="6.2" dy="2">3</tspan></text>
<text x="352.3" y="153.0" text-anchor="middle" font-size="8.2" font-family="'Liberation Sans', sans-serif" fill="#1a1a1a" stroke="#1a1a1a" stroke-width="0.12">rocking</text>
</svg></body></html>
